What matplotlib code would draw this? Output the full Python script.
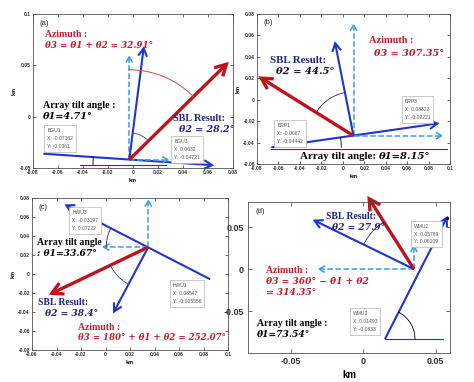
import matplotlib
matplotlib.use("Agg")
import matplotlib.pyplot as plt
import numpy as np

# ---- data (km) ----
panel_tags = ["(a)", "(b)", "(c)", "(d)"]
tip_names = [("BGU1", "BGU3"), ("BRP1", "BRP3"), ("HWU1", "HWU3"), ("WMU3", "WMU2")]
array_start = [(-0.07162, -0.0361), (-0.0667, -0.04442), (0.08547, -0.005556), (0.01493, -0.0833)]
array_end = [(0.0632, -0.04721), (0.08822, -0.02221), (-0.03197, 0.07222), (0.05769, 0.06109)]
tip_labels = [
    ("X: -0.07162\nY: -0.0361", "X: 0.0632\nY: -0.04721"),
    ("X: -0.0667\nY: -0.04442", "X: 0.08822\nY: -0.02221"),
    ("X: 0.08547\nY: -0.005556", "X: -0.03197\nY: 0.07222"),
    ("X: 0.01493\nY: -0.0833", "X: 0.05769\nY: 0.06109"),
]
centers = [(-0.003, -0.042), (0.010, -0.0336), (0.0349, 0.0283), (0.035, 0.0)]
normal_tips = [(0.0085, 0.0666), (-0.0071, 0.0527), (0.007, -0.0395), (-0.0338, 0.0578)]
sbl_tips = [(0.0747, 0.051), (-0.076, 0.0201), (-0.0437, -0.0203), (0.004, 0.0838)]
north_tips = [(-0.003, 0.0585), (0.010, 0.0698), (0.0349, 0.0772), (0.035, 0.0276)]
side_tips = [(0.028, -0.042), (0.0923, -0.0336), (-0.0017, 0.0283), (-0.0308, 0.0)]
hline_x = [(-0.0427, 0.0267), (-0.0667, 0.097), None, (0.01493, 0.0549)]
hline_y = [-0.0467, -0.0457, None, -0.0833]

xlims = [(-0.08, 0.08), (-0.08, 0.1), (-0.06, 0.1), (-0.08, 0.06)]
ylims = [(-0.05, 0.1), (-0.06, 0.08), (-0.08, 0.08), (-0.1, 0.08)]
xticks = [
    [-0.08, -0.06, -0.04, -0.02, 0, 0.02, 0.04, 0.06, 0.08],
    [-0.08, -0.06, -0.04, -0.02, 0, 0.02, 0.04, 0.06, 0.08, 0.1],
    [-0.06, -0.04, -0.02, 0, 0.02, 0.04, 0.06, 0.08, 0.1],
    [-0.05, 0, 0.05],
]
yticks = [
    [-0.05, 0, 0.05, 0.1],
    [-0.06, -0.04, -0.02, 0, 0.02, 0.04, 0.06, 0.08],
    [-0.08, -0.06, -0.04, -0.02, 0, 0.02, 0.04, 0.06, 0.08],
    [-0.05, 0, 0.05],
]

BLUE = "#1f35cf"
RED = "#c0121c"
DASH = "#3a9cf2"
TXT_RED = "#c41e2a"
TXT_NAVY = "#22247e"
SERIF = "Liberation Serif"
MATH = "DejaVu Serif"
SANS = "Liberation Sans"


def head(ax, tail, tip, color, lw, size):
    T = ax.transData
    p0, p1 = T.transform(np.array([tail, tip]))
    d = (p1 - p0) / np.hypot(*(p1 - p0))
    n = np.array([-d[1], d[0]])
    w1 = p1 - size * d + 0.55 * size * n
    w2 = p1 - size * d - 0.55 * size * n
    pts = T.inverted().transform(np.array([w1, p1, w2]))
    ax.plot(pts[:, 0], pts[:, 1], color=color, lw=lw, clip_on=False,
            solid_joinstyle="miter", solid_capstyle="butt")


def arrow(ax, tail, tip, color, lw, size, ls="-"):
    ax.plot([tail[0], tip[0]], [tail[1], tip[1]], color=color, lw=lw, ls=ls,
            clip_on=False, solid_capstyle="butt")
    head(ax, tail, tip, color, lw, size)


def arc(ax, center, p_from, p_to, r, color, lw=0.6):
    T = ax.transData
    c, a, b = T.transform(np.array([center, p_from, p_to]))
    t1 = np.arctan2(a[1] - c[1], a[0] - c[0])
    t2 = np.arctan2(b[1] - c[1], b[0] - c[0])
    diff = (t2 - t1 + np.pi) % (2 * np.pi) - np.pi
    t = t1 + np.linspace(0, diff, 50)
    pts = np.column_stack([c[0] + r * np.cos(t), c[1] + r * np.sin(t)])
    pts = T.inverted().transform(pts)
    ax.plot(pts[:, 0], pts[:, 1], color=color, lw=lw)


def label(ax, x, y, s, color, size, math=False):
    return ax.text(x, y, s, color=color, fontsize=size, fontfamily=MATH if math else SERIF,
                   fontweight="bold", fontstyle="italic" if math else "normal",
                   va="center", ha="left")


def datatip(ax, x, y, s):
    ax.annotate(s, xy=(x, y), xytext=(3, -3), textcoords="offset points",
                va="top", ha="left", fontsize=3.6, color="#555555",
                fontfamily=SANS, linespacing=1.7,
                bbox=dict(boxstyle="square,pad=0.6", fc="white", ec="#b5b5b5", lw=0.5))


fig = plt.figure(figsize=(4.74, 3.82), dpi=100)
positions = [
    [33 / 474, 1 - 168 / 382, 200 / 474, 154 / 382],
    [257 / 474, 1 - 164 / 382, 193 / 474, 150 / 382],
    [32 / 474, 1 - 350 / 382, 196 / 474, 152 / 382],
    [248 / 474, 1 - 353 / 382, 202 / 474, 151 / 382],
]

axes = []
for i, pos in enumerate(positions):
    ax = fig.add_axes(pos)
    ax.set_xlim(*xlims[i])
    ax.set_ylim(*ylims[i])
    small = i < 3
    fs = 3.6 if small else 6.5
    ax.set_xticks(xticks[i])
    ax.set_yticks(yticks[i])
    ax.set_xticklabels([f"{v:g}" for v in xticks[i]], fontsize=fs, fontweight="bold",
                       fontfamily=SANS, color="#303030")
    ax.set_yticklabels([f"{v:g}" for v in yticks[i]], fontsize=fs, fontweight="bold",
                       fontfamily=SANS, color="#303030")
    ax.tick_params(direction="in", length=2 if small else 3, width=0.5,
                   top=True, right=True, pad=1.5 if small else 3, colors="#303030")
    for sp in ax.spines.values():
        sp.set_linewidth(0.6)
        sp.set_color("#505050")
    ax.set_xlabel("km", fontsize=4 if small else 7, fontweight="bold",
                  fontfamily=SANS, labelpad=2 if small else 3)
    if i != 3:
        ax.set_ylabel("km", fontsize=4, fontweight="bold", fontfamily=SANS, labelpad=2)
    axes.append(ax)

for i, ax in enumerate(axes):
    c = centers[i]
    s0, s1 = array_start[i], array_end[i]
    if hline_x[i] is not None:
        ax.plot(hline_x[i], [hline_y[i], hline_y[i]], color=BLUE, lw=0.8)
    # array baseline with arrow at its end
    arrow(ax, s0, s1, BLUE, 1.5, 8)
    # dashed reference axes
    arrow(ax, c, north_tips[i], DASH, 1.1, 6, ls="--")
    arrow(ax, c, side_tips[i], DASH, 1.1, 6, ls="--")
    # array normal and SBL result
    arrow(ax, c, normal_tips[i], BLUE, 1.5, 8)
    arrow(ax, c, sbl_tips[i], RED, 2.4, 11)
    ax.text(0.035, 0.94, panel_tags[i], transform=ax.transAxes, fontsize=5.5,
            fontfamily=SANS, va="center", ha="left", color="#202020")

# angle arcs
ax = axes[0]
arc(ax, centers[0], normal_tips[0], sbl_tips[0], 27, "#3347b0")
arc(ax, centers[0], north_tips[0], sbl_tips[0], 90, "#d24848", 0.7)
arc(ax, array_end[0], array_start[0], (array_end[0][0] - 1, array_end[0][1]), 119, "black")
ax = axes[1]
arc(ax, centers[1], sbl_tips[1], normal_tips[1], 44, "#1d2a80")
arc(ax, array_start[1], (array_start[1][0] + 1, array_start[1][1]), array_end[1], 70, "black")
ax = axes[2]
arc(ax, centers[2], sbl_tips[2], normal_tips[2], 42, "#3347b0")
arc(ax, centers[2], array_end[2], side_tips[2], 42, "#303030")
ax = axes[3]
arc(ax, centers[3], normal_tips[3], sbl_tips[3], 56, "#1d2a80")
arc(ax, array_start[3], (array_start[3][0] + 1, array_start[3][1]), array_end[3], 30, "black")
axes[3].plot(*array_end[3], "o", ms=1.5, color="black", clip_on=False)

# data tips
datatip(axes[0], -0.0718, -0.0071, tip_names[0][0] + "\n" + tip_labels[0][0])
datatip(axes[0], 0.0296, -0.0179, tip_names[0][1] + "\n" + tip_labels[0][1])
datatip(axes[1], -0.0651, -0.018, tip_names[1][0] + "\n" + tip_labels[1][0])
datatip(axes[1], 0.0537, 0.0044, tip_names[1][1] + "\n" + tip_labels[1][1])
datatip(axes[2], 0.0518, -0.0056, tip_names[2][0] + "\n" + tip_labels[2][0])
datatip(axes[2], -0.0304, 0.0716, tip_names[2][1] + "\n" + tip_labels[2][1])
datatip(axes[3], -0.0104, -0.045, tip_names[3][0] + "\n" + tip_labels[3][0])
datatip(axes[3], 0.0324, 0.059, tip_names[3][1] + "\n" + tip_labels[3][1])

# annotations
ax = axes[0]
label(ax, -0.0704, 0.0805, "Azimuth :", TXT_RED, 7)
label(ax, -0.0704, 0.0698, "θ3 = θ1 + θ2 = 32.91°", TXT_RED, 6.3, True)
label(ax, -0.0718, 0.0104, "Array tilt angle :", "black", 7.2)
label(ax, -0.0718, 0.0, "θ1=4.71°", "black", 7, True)
label(ax, 0.0322, -0.0016, "SBL Result:", TXT_NAVY, 7.3)
label(ax, 0.0368, -0.0123, "θ2 = 28.2°", TXT_NAVY, 6.8, True)

ax = axes[1]
label(ax, 0.0248, 0.0551, "Azimuth :", TXT_RED, 7.5)
label(ax, 0.0289, 0.0433, "θ3 = 307.35°", TXT_RED, 7, True)
label(ax, -0.0676, 0.037, "SBL Result:", TXT_NAVY, 7.8)
label(ax, -0.062, 0.0261, "θ2 = 44.5°", "#111133", 7.2, True)
first = label(ax, -0.0396, -0.0526, "Array tilt angle:", "black", 7.8)
renderer = fig.canvas.get_renderer()
ext = first.get_window_extent(renderer)
x_next = ax.transData.inverted().transform((ext.x1 + 3, ext.y0))[0]
label(ax, x_next, -0.0526, "θ1=8.15°", "black", 7.2, True)

ax = axes[2]
label(ax, -0.0557, 0.033, "Array tilt angle", "black", 7)
label(ax, -0.0557, 0.0214, ": θ1=33.67°", "black", 6.6, True)
label(ax, -0.0549, -0.0295, "SBL Result:", TXT_NAVY, 7)
label(ax, -0.0494, -0.0418, "θ2 = 38.4°", TXT_NAVY, 6.6, True)
label(ax, -0.0222, -0.0558, "Azimuth :", TXT_RED, 7)
label(ax, -0.0222, -0.067, "θ3 = 180° + θ1 + θ2 = 252.07°", TXT_RED, 6.2, True)

ax = axes[3]
label(ax, -0.0262, 0.0629, "SBL Result:", TXT_NAVY, 7)
label(ax, -0.022, 0.0492, "θ2 = 27.9°", TXT_NAVY, 6.6, True)
label(ax, -0.0678, -0.0018, "Azimuth :", TXT_RED, 7)
label(ax, -0.0678, -0.0143, "θ3 = 360° − θ1 + θ2", TXT_RED, 6.6, True)
label(ax, -0.0678, -0.0273, "= 314.35°", TXT_RED, 6.6, True)
label(ax, -0.0736, -0.0645, "Array tilt angle :", "black", 7)
label(ax, -0.0736, -0.0782, "θ1=73.54°", "black", 6.6, True)

fig.savefig("out.png", dpi=100)
